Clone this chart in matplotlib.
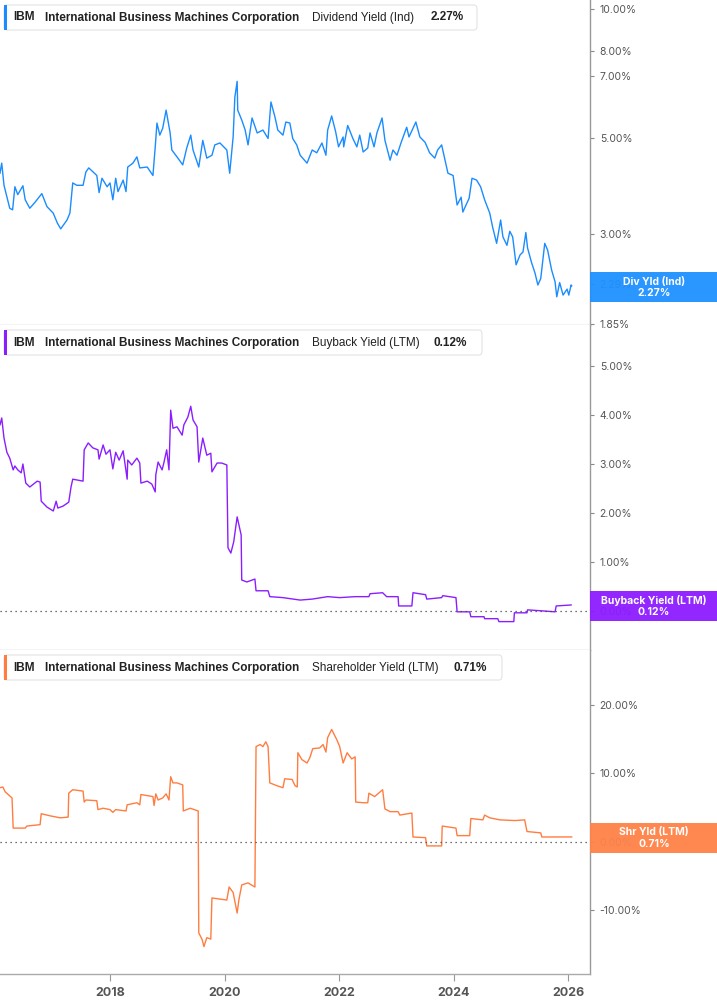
import matplotlib
matplotlib.use("Agg")
import matplotlib.pyplot as plt
from matplotlib.patches import Rectangle, FancyBboxPatch
from matplotlib.ticker import FixedLocator, NullLocator

# ---------------- data (decimal years, percent) ----------------
div_dates = [2016.08, 2016.11, 2016.15, 2016.25, 2016.30, 2016.34, 2016.39, 2016.48, 2016.52, 2016.60,
             2016.69, 2016.81, 2016.90, 2017.01, 2017.08, 2017.14, 2017.25, 2017.30, 2017.35, 2017.42,
             2017.53, 2017.58, 2017.63, 2017.77, 2017.81, 2017.86, 2017.95, 2018.00, 2018.05, 2018.10,
             2018.14, 2018.23, 2018.28, 2018.31, 2018.40, 2018.47, 2018.52, 2018.65, 2018.75, 2018.79,
             2018.82, 2018.87, 2018.92, 2018.98, 2019.05, 2019.08, 2019.17, 2019.27, 2019.34, 2019.41,
             2019.45, 2019.55, 2019.62, 2019.69, 2019.78, 2019.83, 2019.92, 2020.04, 2020.09, 2020.15,
             2020.18, 2020.22, 2020.23, 2020.30, 2020.36, 2020.41, 2020.48, 2020.57, 2020.67, 2020.76,
             2020.81, 2020.88, 2020.93, 2021.02, 2021.07, 2021.14, 2021.19, 2021.26, 2021.32, 2021.44,
             2021.53, 2021.61, 2021.70, 2021.77, 2021.80, 2021.87, 2021.94, 2021.99, 2022.07, 2022.08,
             2022.15, 2022.24, 2022.31, 2022.36, 2022.42, 2022.50, 2022.54, 2022.61, 2022.66, 2022.75,
             2022.80, 2022.89, 2022.94, 2023.01, 2023.08, 2023.18, 2023.22, 2023.34, 2023.41, 2023.50,
             2023.58, 2023.67, 2023.72, 2023.79, 2023.85, 2023.90, 2023.99, 2024.06, 2024.13, 2024.16,
             2024.27, 2024.32, 2024.40, 2024.47, 2024.54, 2024.63, 2024.68, 2024.75, 2024.82, 2024.86,
             2024.93, 2024.98, 2025.03, 2025.09, 2025.16, 2025.21, 2025.26, 2025.29, 2025.36, 2025.42,
             2025.47, 2025.52, 2025.59, 2025.64, 2025.71, 2025.77, 2025.80, 2025.85, 2025.91, 2025.98,
             2026.01, 2026.05, 2026.06]
div_yield = [4.15, 4.38, 3.89, 3.44, 3.41, 3.86, 3.70, 3.88, 3.60, 3.44,
             3.55, 3.72, 3.47, 3.35, 3.18, 3.08, 3.23, 3.35, 3.94, 3.89,
             3.89, 4.18, 4.27, 4.10, 3.74, 4.04, 3.86, 3.94, 3.60, 4.04,
             3.76, 4.00, 3.76, 4.29, 4.38, 4.53, 4.27, 4.29, 4.10, 4.78,
             5.43, 5.09, 5.28, 5.82, 5.15, 4.70, 4.53, 4.34, 4.75, 5.09,
             4.70, 4.29, 4.95, 4.50, 4.57, 4.83, 4.88, 4.70, 4.15, 5.04,
             6.24, 6.79, 5.82, 5.52, 5.23, 4.83, 5.58, 5.15, 5.23, 5.00,
             6.08, 5.61, 5.23, 5.09, 5.46, 5.43, 5.00, 4.83, 4.57, 4.38,
             4.70, 4.63, 4.88, 4.57, 5.23, 5.64, 5.18, 4.78, 5.04, 4.78,
             5.36, 5.00, 4.78, 5.09, 4.65, 4.75, 5.15, 4.78, 5.15, 5.58,
             4.95, 4.45, 4.70, 4.57, 4.88, 5.31, 5.04, 5.46, 5.04, 4.90,
             4.63, 4.50, 4.70, 4.83, 4.45, 4.15, 4.10, 3.50, 3.65, 3.37,
             3.63, 4.04, 4.00, 3.86, 3.60, 3.35, 3.11, 2.85, 3.23, 2.95,
             2.82, 3.04, 2.95, 2.54, 2.68, 2.72, 3.02, 2.78, 2.57, 2.43,
             2.28, 2.36, 2.85, 2.75, 2.47, 2.32, 2.14, 2.31, 2.16, 2.23,
             2.16, 2.28, 2.27]

bb_dates = [2016.08, 2016.11, 2016.15, 2016.20, 2016.25, 2016.31, 2016.34, 2016.39, 2016.45, 2016.48,
            2016.53, 2016.60, 2016.73, 2016.78, 2016.80, 2016.90, 2017.01, 2017.06, 2017.09, 2017.18,
            2017.28, 2017.32, 2017.35, 2017.53, 2017.55, 2017.62, 2017.70, 2017.79, 2017.81, 2017.88,
            2017.93, 2018.00, 2018.05, 2018.10, 2018.16, 2018.23, 2018.30, 2018.31, 2018.38, 2018.47,
            2018.52, 2018.54, 2018.65, 2018.73, 2018.79, 2018.80, 2018.84, 2018.91, 2018.94, 2018.99,
            2019.03, 2019.06, 2019.10, 2019.17, 2019.26, 2019.29, 2019.36, 2019.41, 2019.45, 2019.52,
            2019.55, 2019.62, 2019.69, 2019.76, 2019.78, 2019.87, 2019.95, 2020.04, 2020.06, 2020.11,
            2020.16, 2020.22, 2020.29, 2020.30, 2020.39, 2020.53, 2020.55, 2020.76, 2020.79, 2021.02,
            2021.32, 2021.53, 2021.80, 2022.01, 2022.28, 2022.52, 2022.54, 2022.76, 2022.83, 2023.03,
            2023.04, 2023.27, 2023.29, 2023.51, 2023.53, 2023.79, 2023.81, 2024.04, 2024.06, 2024.28,
            2024.30, 2024.53, 2024.54, 2024.77, 2024.79, 2025.05, 2025.06, 2025.28, 2025.29, 2025.54,
            2025.77, 2025.79, 2026.05]
bb_yield = [3.80, 3.94, 3.53, 3.24, 3.12, 2.88, 2.96, 2.88, 2.82, 3.00,
            2.61, 2.53, 2.65, 2.63, 2.24, 2.12, 2.04, 2.24, 2.10, 2.14,
            2.22, 2.53, 2.69, 2.65, 3.29, 3.43, 3.33, 3.29, 3.10, 3.39,
            3.20, 3.29, 2.90, 3.24, 3.08, 3.27, 2.69, 3.08, 2.98, 3.12,
            3.02, 2.61, 2.65, 2.59, 2.43, 2.78, 3.04, 2.88, 3.02, 3.29,
            2.88, 4.10, 3.73, 3.76, 3.59, 3.80, 3.96, 4.18, 3.90, 3.76,
            3.04, 3.53, 3.18, 3.22, 2.84, 3.02, 3.02, 2.98, 1.29, 1.18,
            1.41, 1.92, 1.55, 0.63, 0.59, 0.65, 0.41, 0.41, 0.29, 0.27,
            0.22, 0.24, 0.29, 0.27, 0.29, 0.29, 0.35, 0.37, 0.29, 0.29,
            0.10, 0.10, 0.37, 0.33, 0.24, 0.27, 0.31, 0.27, -0.02, -0.02,
            -0.12, -0.12, -0.16, -0.16, -0.22, -0.22, -0.04, -0.04, 0.02, 0.00,
            -0.02, 0.10, 0.12]

sh_dates = [2016.08, 2016.13, 2016.17, 2016.29, 2016.31, 2016.52, 2016.55, 2016.78, 2016.80, 2016.95,
            2017.13, 2017.27, 2017.28, 2017.35, 2017.53, 2017.55, 2017.58, 2017.77, 2017.79, 2017.88,
            2018.00, 2018.05, 2018.10, 2018.28, 2018.30, 2018.47, 2018.52, 2018.54, 2018.75, 2018.77,
            2018.80, 2018.84, 2018.92, 2018.98, 2019.03, 2019.06, 2019.10, 2019.17, 2019.27, 2019.28,
            2019.40, 2019.54, 2019.55, 2019.61, 2019.64, 2019.69, 2019.76, 2019.78, 2020.04, 2020.08,
            2020.15, 2020.22, 2020.25, 2020.30, 2020.41, 2020.53, 2020.55, 2020.62, 2020.67, 2020.72,
            2020.76, 2020.79, 2020.91, 2021.02, 2021.05, 2021.18, 2021.23, 2021.27, 2021.28, 2021.35,
            2021.44, 2021.49, 2021.54, 2021.66, 2021.72, 2021.77, 2021.80, 2021.87, 2021.96, 2022.01,
            2022.07, 2022.14, 2022.22, 2022.28, 2022.29, 2022.43, 2022.50, 2022.52, 2022.62, 2022.76,
            2022.80, 2022.89, 2023.03, 2023.06, 2023.27, 2023.29, 2023.51, 2023.53, 2023.79, 2023.80,
            2024.04, 2024.06, 2024.28, 2024.30, 2024.51, 2024.54, 2024.63, 2024.81, 2025.07, 2025.24,
            2025.28, 2025.52, 2025.54, 2026.06]
sh_yield = [7.9, 8.0, 7.3, 6.4, 2.0, 2.0, 2.3, 2.5, 4.1, 3.8,
            3.5, 3.6, 7.1, 7.6, 7.4, 5.8, 6.1, 6.0, 4.7, 4.9,
            4.7, 4.3, 4.7, 4.5, 5.4, 5.7, 5.4, 6.9, 6.6, 5.3,
            7.0, 6.1, 6.4, 7.0, 6.1, 9.5, 8.6, 8.6, 8.3, 4.5,
            4.9, 4.5, -13.3, -14.3, -15.3, -14.0, -14.2, -8.2, -8.5, -6.6,
            -7.4, -10.4, -8.5, -6.3, -6.0, -6.6, 13.9, 14.2, 13.9, 14.6,
            13.9, 8.6, 8.2, 7.9, 9.2, 9.1, 8.2, 8.0, 13.0, 12.0,
            11.5, 12.3, 13.6, 13.7, 14.2, 13.1, 15.2, 16.4, 14.9, 13.9,
            11.5, 13.0, 12.1, 12.4, 5.8, 5.7, 5.7, 7.1, 6.6, 7.6,
            4.8, 4.4, 4.4, 3.9, 4.2, 0.7, 0.6, -0.6, -0.6, 2.3,
            2.0, 0.9, 0.9, 3.4, 3.2, 3.9, 3.5, 3.2, 3.1, 3.2,
            1.5, 1.3, 0.7, 0.71]

assert len(div_dates) == len(div_yield)
assert len(bb_dates) == len(bb_yield)
assert len(sh_dates) == len(sh_yield)

div_ticks = [1.85, 2.29, 3.0, 5.0, 7.0, 8.0, 10.0]
bb_ticks = [0.0, 1.0, 2.0, 3.0, 4.0, 5.0]
sh_ticks = [-10.0, 0.0, 10.0, 20.0]
year_ticks = [2018, 2020, 2022, 2024, 2026]

company = "International Business Machines Corporation"
ticker = "IBM"
metrics = ["Dividend Yield (Ind)", "Buyback Yield (LTM)", "Shareholder Yield (LTM)"]
last_vals = ["2.27%", "0.12%", "0.71%"]
short_names = ["Div Yld (Ind)", "Buyback Yield (LTM)", "Shr Yld (LTM)"]

C_BLUE = "#1a8cff"
C_PURPLE = "#8b1eff"
C_ORANGE = "#ff7d40"
BOX_COLORS = ["#1e90ff", "#8c1cff", "#ff8248"]

# ---------------- layout ----------------
W, H = 717, 1005
fig = plt.figure(figsize=(W / 100, H / 100), dpi=100)
fig.patch.set_facecolor("white")

def fx(px):
    return px / W

def fy(py):
    return 1 - py / H

ax1 = fig.add_axes([0, fy(325), fx(590), 325 / H])
ax2 = fig.add_axes([0, fy(650), fx(590), 325 / H])
ax3 = fig.add_axes([0, fy(974), fx(590), 324 / H])

TICK_FONT = ["Inter", "DejaVu Sans"]
LEG_FONT = ["Liberation Sans Narrow", "Liberation Sans", "DejaVu Sans"]

for ax in (ax1, ax2, ax3):
    ax.set_xlim(2016.08, 2026.38)
    ax.spines["left"].set_visible(False)
    ax.spines["top"].set_visible(False)
    ax.spines["right"].set_color("#999999")
    ax.spines["right"].set_linewidth(1.0)
    ax.spines["bottom"].set_color("#c8c8c8")
    ax.spines["bottom"].set_linewidth(1.0)
    ax.yaxis.tick_right()
    ax.tick_params(axis="y", which="major", length=3, width=0.8, color="#888888",
                   labelcolor="#555555", labelsize=7.5, pad=4)
    ax.tick_params(axis="y", which="minor", length=0)
    ax.set_facecolor("white")
    for lab in ax.get_yticklabels():
        lab.set_family(TICK_FONT)

# panel 1 : dividend yield (log)
ax1.plot(div_dates, div_yield, color=C_BLUE, lw=1.0)
ax1.set_yscale("log")
ax1.set_ylim(1.84, 10.5)
ax1.yaxis.set_major_locator(FixedLocator(div_ticks))
ax1.yaxis.set_minor_locator(NullLocator())
ax1.set_yticklabels([f"{t:.2f}%" for t in div_ticks], family=TICK_FONT)

# panel 2 : buyback yield
ax2.plot(bb_dates, bb_yield, color=C_PURPLE, lw=1.0)
ax2.axhline(0, color="#444444", lw=0.9, ls=(0, (1, 3)))
ax2.set_ylim(-0.80, 5.84)
ax2.set_yticks(bb_ticks)
ax2.set_yticklabels([f"{t:.2f}%" for t in bb_ticks], family=TICK_FONT)

# panel 3 : shareholder yield
ax3.plot(sh_dates, sh_yield, color=C_ORANGE, lw=1.0)
ax3.axhline(0, color="#444444", lw=0.9, ls=(0, (1, 3)))
ax3.set_ylim(-19.3, 28.0)
ax3.set_yticks(sh_ticks)
ax3.set_yticklabels([f"{t:.2f}%" for t in sh_ticks], family=TICK_FONT)
ax3.spines["bottom"].set_color("#aaaaaa")

for ax in (ax1, ax2):
    ax.set_xticks([])
ax3.set_xticks(year_ticks)
ax3.set_xticklabels([str(y) for y in year_ticks], fontweight="bold", color="#555555",
                    fontsize=9, family=TICK_FONT)
ax3.tick_params(axis="x", length=5, width=0.8, color="#999999", pad=4)

# ---------------- legends (top-left boxes) ----------------
panel_tops = [0, 325, 650]
line_colors = [C_BLUE, C_PURPLE, C_ORANGE]
box_right = [477, 482, 502]
metric_x = [312, 312, 312]
val_x = [431, 433, 453]
for i in range(3):
    top = panel_tops[i]
    y0, y1 = top + 5, top + 30
    box = FancyBboxPatch((fx(4), fy(y1)), fx(box_right[i] - 4), (y1 - y0) / H,
                         boxstyle="round,pad=0,rounding_size=0.004",
                         transform=fig.transFigure, facecolor="white",
                         edgecolor="#e3e3e3", lw=0.8, zorder=5)
    fig.add_artist(box)
    bar = Rectangle((fx(4), fy(y1)), fx(3), (y1 - y0) / H, transform=fig.transFigure,
                    facecolor=line_colors[i], edgecolor="none", zorder=6)
    fig.add_artist(bar)
    yc = fy(top + 17.5)
    fig.text(fx(13), yc, ticker, ha="left", va="center", fontsize=8.5,
             fontweight="bold", color="#222222", family=LEG_FONT, zorder=7)
    fig.text(fx(45), yc, company, ha="left", va="center", fontsize=8.5,
             fontweight="bold", color="#222222", family=LEG_FONT, zorder=7)
    fig.text(fx(metric_x[i]), yc, metrics[i], ha="left", va="center", fontsize=8.5,
             color="#222222", family=LEG_FONT, zorder=7)
    fig.text(fx(val_x[i]), yc, last_vals[i], ha="left", va="center", fontsize=8.5,
             fontweight="bold", color="#222222", family=LEG_FONT, zorder=7)

# ---------------- right-side value boxes ----------------
box_tops = [272, 591, 823]
for i in range(3):
    t = box_tops[i]
    rect = Rectangle((fx(590), fy(t + 30)), fx(127), 30 / H, transform=fig.transFigure,
                     facecolor=BOX_COLORS[i], edgecolor="none", alpha=0.95, zorder=8)
    fig.add_artist(rect)
    fig.text(fx(654), fy(t + 9.5), short_names[i], ha="center", va="center", fontsize=7.5,
             fontweight="bold", color="white", family=TICK_FONT, zorder=9)
    fig.text(fx(654), fy(t + 21), last_vals[i], ha="center", va="center", fontsize=7.5,
             fontweight="bold", color="white", family=TICK_FONT, zorder=9)

fig.savefig("out.png", dpi=100, facecolor="white")
